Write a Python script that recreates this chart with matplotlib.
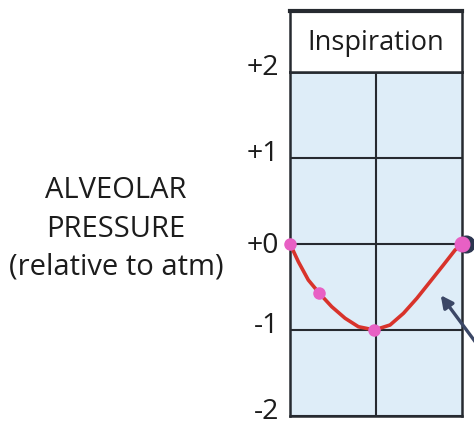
import matplotlib
matplotlib.use('Agg')
import matplotlib.pyplot as plt
import matplotlib.transforms as mtransforms

# alveolar pressure curve during inspiration (time as fraction of the phase)
t = [0.0, 0.048, 0.106, 0.170, 0.242, 0.320, 0.397, 0.490,
     0.581, 0.659, 0.737, 0.814, 0.891, 0.959, 1.0]
pressure = [0.0, -0.206, -0.419, -0.573, -0.729, -0.864, -0.962, -1.0,
            -0.942, -0.806, -0.631, -0.438, -0.244, -0.07, 0.0]

# highlighted points
dot_t = [0.0, 0.170, 0.490]
dot_p = [0.0, -0.573, -1.0]
end_t = [1.0]
end_p = [0.0]

ticks = [2, 1, 0, -1, -2]
tick_labels = ['+2', '+1', '+0', '-1', '-2']

plt.rcParams['font.family'] = ['Open Sans', 'DejaVu Sans']

fig = plt.figure(figsize=(4.74, 4.26), dpi=100)
fig.patch.set_facecolor('white')

line_col = '#262a30'
text_col = '#1c1c1c'

ax = fig.add_axes([0.612, 0.0235, 0.363, 0.8075])
ax.set_facecolor('#deedf8')
ax.set_xlim(0, 1)
ax.set_ylim(-2, 2)
ax.set_xticks([0.5])
ax.set_yticks(ticks)
ax.set_yticklabels(tick_labels, fontsize=20.5, color=text_col)
ax.tick_params(axis='y', length=0, pad=8)
ax.tick_params(axis='x', length=0, labelbottom=False)
ax.grid(True, color=line_col, linewidth=1.5)
for s in ax.spines.values():
    s.set_color(line_col)
    s.set_linewidth(1.8)
# labels sit a bit above their grid lines
shift_up = mtransforms.ScaledTranslation(0, 0.07, fig.dpi_scale_trans)
for i, lab in enumerate(ax.get_yticklabels()):
    if i == 2:
        lab.set_transform(lab.get_transform() + mtransforms.ScaledTranslation(0, 0.01, fig.dpi_scale_trans))
    else:
        lab.set_transform(lab.get_transform() + shift_up)

ax.plot(t, pressure, color='#d8332b', linewidth=2.6, zorder=3, clip_on=False,
        solid_joinstyle='round')
# dark dot partly hidden at the right edge
ax.plot([1.02], [0.0], 'o', color='#2c3550', markersize=12, zorder=2, clip_on=False)
ax.plot(dot_t, dot_p, 'o', color='#e860c4', markersize=8, zorder=4, clip_on=False)
ax.plot(end_t, end_p, 'o', color='#e860c4', markersize=10.5, zorder=4, clip_on=False)

# arrow pointing at the curve
ax.annotate('', xy=(0.866, -0.57), xytext=(1.163, -1.372),
            arrowprops=dict(arrowstyle='-|>', color='#3b4766', linewidth=2.4,
                            mutation_scale=18),
            annotation_clip=False)

# header box
hd = fig.add_axes([0.612, 0.831, 0.363, 0.143])
hd.set_facecolor('white')
hd.set_xticks([])
hd.set_yticks([])
for s in hd.spines.values():
    s.set_color(line_col)
    s.set_linewidth(1.8)
hd.spines['top'].set_linewidth(3)
hd.text(0.5, 0.48, 'Inspiration', ha='center', va='center', fontsize=19.5, color=text_col,
        transform=hd.transAxes)

fig.text(0.245, 0.462, 'ALVEOLAR\nPRESSURE\n(relative to atm)', ha='center', va='center',
         fontsize=21, color=text_col, linespacing=1.42)

fig.savefig('out.png', dpi=100)
